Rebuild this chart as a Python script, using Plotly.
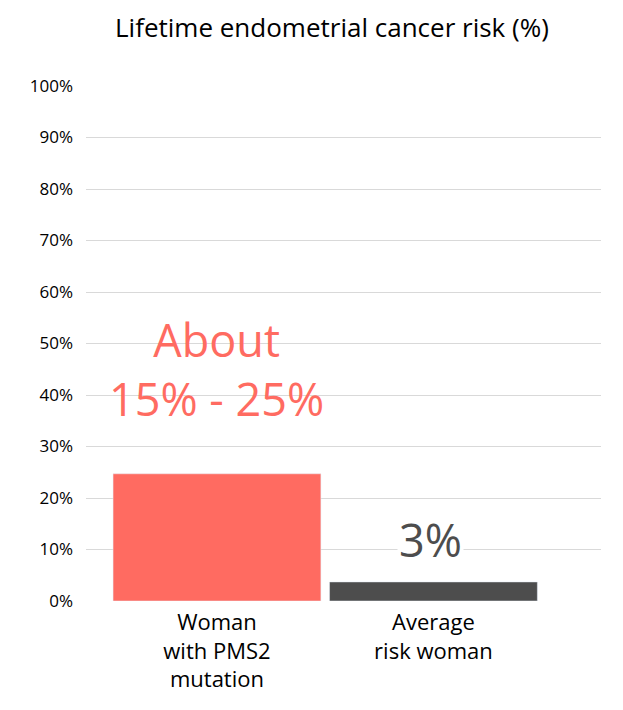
import plotly.graph_objects as go

categories = ["Woman<br>with PMS2<br>mutation", "Average<br>risk woman"]
values = [24.7, 3.7]
colors = ["#ff6b61", "#4d4d4d"]
labels = ["About<br>15% - 25%", "3%"]
label_colors = ["#ff6b61", "#4d4d4d"]
yticks = list(range(0, 101, 10))

x = [0, 1]
fig = go.Figure(go.Bar(x=x, y=values, marker_color=colors, width=0.96))
fig.add_annotation(x=0, y=45, text=labels[0], showarrow=False,
                   font=dict(size=45, color=label_colors[0]), align="center")
fig.add_annotation(x=0.985, y=12, text=labels[1], showarrow=False,
                   font=dict(size=45, color=label_colors[1]), bgcolor="white")
fig.update_layout(
    width=623, height=710, plot_bgcolor="white", paper_bgcolor="white",
    margin=dict(l=78, r=30, t=78, b=117),
    font=dict(family="Open Sans", color="black"),
    title=dict(text="Lifetime endometrial cancer risk (%)", x=0.52, xanchor="center",
               y=0.985, yanchor="top", font=dict(size=26)),
    showlegend=False,
    xaxis=dict(range=[-0.605, 1.774], tickvals=x, ticktext=categories,
               tickfont=dict(size=22), showgrid=False, zeroline=False,
               showline=False, ticks="", automargin=False, ticklabelstandoff=6),
    yaxis=dict(range=[0, 100], tickvals=yticks, ticktext=[f"{v}%" for v in yticks],
               tickfont=dict(size=17), gridcolor="#d9d9d9", zeroline=False,
               ticklabelstandoff=12, showline=False, automargin=False),
)
fig.write_html("out.html")
